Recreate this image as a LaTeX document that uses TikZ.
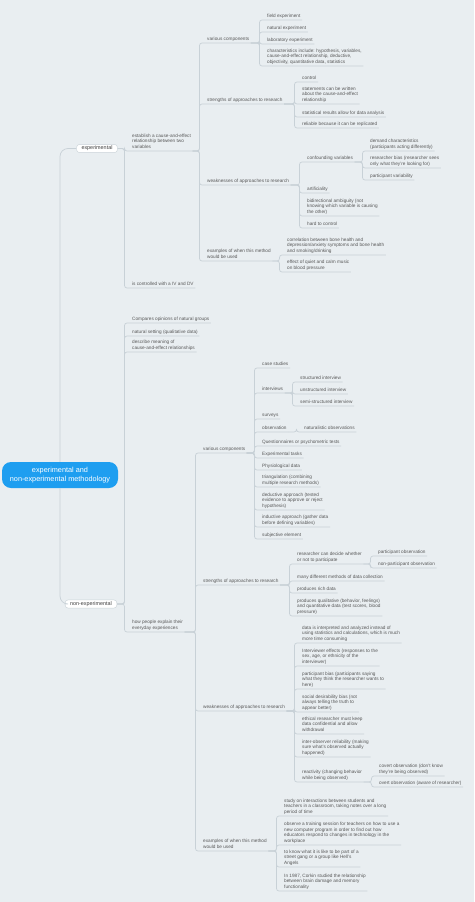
\documentclass[tikz,border=0pt]{standalone}
\usepackage{fontspec}
\setmainfont{Liberation Sans}
\usepackage{tikz}
\usetikzlibrary{positioning,calc}
\definecolor{bgcol}{RGB}{233,238,241}
\definecolor{linecol}{RGB}{200,209,215}
\definecolor{textcol}{RGB}{88,88,88}
\definecolor{rootblue}{RGB}{30,158,240}
\tikzset{
	branch/.style={draw=linecol, line width=0.7pt, rounded corners=2.5pt},
	leaf/.style={anchor=south west, align=left, inner xsep=1.5pt, inner ysep=0.6pt, text=textcol,
		font=\fontsize{4.7}{5.7}\selectfont, execute at begin node=\strut, execute at end node=\strut},
	topic/.style={fill=white, draw=linecol, rounded corners=3pt, inner xsep=5pt, inner ysep=1.6pt,
		text=textcol!70!black, font=\fontsize{5.4}{6}\selectfont},
	central/.style={fill=rootblue, rounded corners=9pt, text=white, align=center,
		minimum width=116pt, minimum height=26pt, font=\fontsize{7.3}{8.6}\selectfont}
}

\begin{document}
\begin{tikzpicture}[x=1pt, y=-1pt]
		\fill[bgcol] (0,0) rectangle (474,902);
		\useasboundingbox (0,0) rectangle (474,902);

		\node[central] (root) at (60,475) {experimental and\\non-experimental methodology};
		\node[topic] (exp) at (97,148.5) {experimental};
		\node[topic] (nex) at (91,604) {non-experimental};

		% experimental
		\node[leaf] (est) at (130.5,151) {establish a cause-and-effect\\relationship between two\\variables};
		\node[leaf] (ctrl) at (130.5,288) {is controlled with a IV and DV};

		\node[leaf] (varc) at (205.5,43) {various components};
		\node[leaf] (strA) at (205.5,104) {strengths of approaches to research};
		\node[leaf] (wkA) at (205.5,185) {weaknesses of approaches to research};
		\node[leaf] (exA) at (205.5,261) {examples of when this method\\would be used};

		\node[leaf] (fe) at (265.5,20) {field experiment};
		\node[leaf] (ne) at (265.5,32) {natural experiment};
		\node[leaf] (le) at (265.5,44) {laboratory experiment};
		\node[leaf] (chr) at (265.5,66) {characteristics include: hypothesis, variables,\\cause-and-effect relationship, deductive,\\objectivity, quantitative data, statistics};

		\node[leaf] (con) at (300.5,82) {control};
		\node[leaf] (stw) at (300.5,104) {statements can be written\\about the cause-and-effect\\relationship};
		\node[leaf] (sra) at (300.5,117) {statistical results allow for data analysis};
		\node[leaf] (rel) at (300.5,128) {reliable because it can be replicated};

		\node[leaf] (cfv) at (305.5,162) {confounding variables};
		\node[leaf] (art) at (305.5,193) {artificiality};
		\node[leaf] (bid) at (305.5,216) {bidirectional ambiguity (not\\knowing which variable is causing\\the other)};
		\node[leaf] (htc) at (305.5,228) {hard to control};

		\node[leaf] (dch) at (368.5,151) {demand characteristics\\(participants acting differently)};
		\node[leaf] (rsb) at (368.5,168) {researcher bias (researcher sees\\only what they're looking for)};
		\node[leaf] (pva) at (368.5,180) {participant variability};

		\node[leaf] (cor) at (285.5,255) {correlation between bone health and\\depression/anxiety symptoms and bone health\\and smoking/drinking};
		\node[leaf] (eqm) at (285.5,272) {effect of quiet and calm music\\on blood pressure};

		% non-experimental
		\node[leaf] (cmp) at (130.5,323) {Compares opinions of natural groups};
		\node[leaf] (nst) at (130.5,336) {natural setting (qualitative data)};
		\node[leaf] (dsm) at (130.5,352) {describe meaning of\\cause-and-effect relationships};
		\node[leaf] (hpe) at (130.5,632) {how people explain their\\everyday experiences};

		\node[leaf] (varB) at (201.5,453) {various components};
		\node[leaf] (strB) at (201.5,585) {strengths of approaches to research};
		\node[leaf] (wkB) at (201.5,711) {weaknesses of approaches to research};
		\node[leaf] (exB) at (201.5,851) {examples of when this method\\would be used};

		\node[leaf] (cst) at (260.5,368) {case studies};
		\node[leaf] (itv) at (260.5,393) {interviews};
		\node[leaf] (srv) at (260.5,419) {surveys};
		\node[leaf] (obs) at (260.5,432) {observation};
		\node[leaf] (qpt) at (260.5,446) {Questionnaires or psychometric tests};
		\node[leaf] (ext) at (260.5,458) {Experimental tasks};
		\node[leaf] (phd) at (260.5,470) {Physiological data};
		\node[leaf] (tri) at (260.5,487) {triangulation (combining\\multiple research methods)};
		\node[leaf] (ded) at (260.5,510) {deductive approach (tested\\evidence to approve or reject\\hypothesis)};
		\node[leaf] (ind) at (260.5,527) {inductive approach (gather data\\before defining variables)};
		\node[leaf] (sje) at (260.5,539) {subjective element};

		\node[leaf] (sti) at (298.5,382) {structured interview};
		\node[leaf] (usi) at (298.5,394) {unstructured interview};
		\node[leaf] (ssi) at (298.5,406) {semi-structured interview};
		\node[leaf] (nat) at (302.5,432) {naturalistic observations};

		\node[leaf] (rcd) at (295.5,564) {researcher can decide whether\\or not to participate};
		\node[leaf] (mdm) at (295.5,581) {many different methods of data collection};
		\node[leaf] (prd) at (295.5,593) {produces rich data};
		\node[leaf] (pqq) at (295.5,616) {produces qualitative (behavior, feelings)\\and quantitative data (test scores, blood\\pressure)};
		\node[leaf] (pob) at (376.5,556) {participant observation};
		\node[leaf] (npo) at (376.5,568) {non-participant observation};

		\node[leaf] (dia) at (300.5,643) {data is interpreted and analyzed instead of\\using statistics and calculations, which is much\\more time consuming};
		\node[leaf] (ive) at (300.5,666) {Interviewer effects (responses to the\\sex, age, or ethnicity of the\\interviewer)};
		\node[leaf] (pbi) at (300.5,689) {participant bias (participants saying\\what they think the researcher wants to\\here)};
		\node[leaf] (sdb) at (300.5,712) {social desirability bias (not\\always telling the truth to\\appear better)};
		\node[leaf] (erk) at (300.5,734) {ethical researcher must keep\\data confidential and allow\\withdrawal};
		\node[leaf] (ior) at (300.5,757) {inter-observer reliability (making\\sure what's observed actually\\happened)};
		\node[leaf] (rea) at (300.5,782) {reactivity (changing behavior\\while being observed)};
		\node[leaf] (cov) at (377.5,776) {covert observation (don't know\\they're being observed)};
		\node[leaf] (ovt) at (377.5,787) {overt observation (aware of researcher)};

		\node[leaf] (sic) at (282.5,816) {study on interactions between students and\\teachers in a classroom, taking notes over a long\\period of time};
		\node[leaf] (otr) at (282.5,845) {observe a training session for teachers on how to use a\\new computer program in order to find out how\\educators respond to changes in technology in the\\workplace};
		\node[leaf] (gng) at (282.5,867) {to know what it is like to be part of a\\street gang or a group like Hell's\\Angels};
		\node[leaf] (crk) at (282.5,891) {In 1987, Corkin studied the relationship\\between brain damage and memory\\functionality};

		% branches
		\draw[branch, rounded corners=8pt] (root.north) |- (exp.west);
		\draw[branch, rounded corners=8pt] (root.south) |- (nex.west);
		\foreach \c in {est,ctrl}
			\draw[branch] (exp.east) -| ([xshift=-6pt]\c.south west) -- (\c.south west) -- (\c.south east);
		\foreach \c in {cmp,nst,dsm,hpe}
			\draw[branch] (nex.east) -| ([xshift=-6pt]\c.south west) -- (\c.south west) -- (\c.south east);
		\foreach \p/\c in {est/varc, est/strA, est/wkA, est/exA,
			varc/fe, varc/ne, varc/le, varc/chr,
			strA/con, strA/stw, strA/sra, strA/rel,
			wkA/cfv, wkA/art, wkA/bid, wkA/htc,
			cfv/dch, cfv/rsb, cfv/pva, exA/cor, exA/eqm,
			hpe/varB, hpe/strB, hpe/wkB, hpe/exB,
			varB/cst, varB/itv, varB/srv, varB/obs, varB/qpt, varB/ext,
			varB/phd, varB/tri, varB/ded, varB/ind, varB/sje,
			itv/sti, itv/usi, itv/ssi, obs/nat,
			strB/rcd, strB/mdm, strB/prd, strB/pqq, rcd/pob, rcd/npo,
			wkB/dia, wkB/ive, wkB/pbi, wkB/sdb, wkB/erk, wkB/ior, wkB/rea,
			rea/cov, rea/ovt,
			exB/sic, exB/otr, exB/gng, exB/crk}
			\draw[branch] (\p.south east) -| ([xshift=-6pt]\c.south west) -- (\c.south west) -- (\c.south east);
\end{tikzpicture}
\end{document}
